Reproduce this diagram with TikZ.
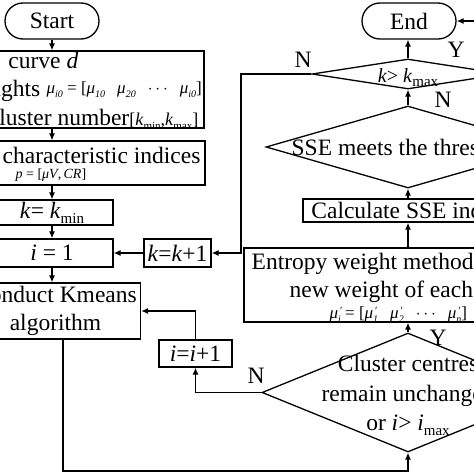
\documentclass[tikz,border=0pt]{standalone}
\usepackage{fontspec}
\setmainfont{Liberation Serif}
\usetikzlibrary{shapes.geometric,arrows.meta}
\newcommand\mv[1]{\textit{#1}}
\newcommand\sbs[1]{\raisebox{-.22em}{\fontsize{15}{15}\selectfont #1}}
\newcommand\ssb[1]{\raisebox{-.25em}{\fontsize{10}{10}\selectfont #1}}
\newcommand\msb[1]{\raisebox{-.25em}{\fontsize{11}{11}\selectfont #1}}
\newcommand\smu[1]{\mv{μ}\ssb{\mv{#1}}}
\newcommand\pmu[1]{\mv{μ}\rlap{\raisebox{.2em}{\fontsize{11}{11}\selectfont\,′}}\ssb{\mv{#1}}}
\begin{document}
\begin{tikzpicture}[x=1pt,y=-1pt,line width=1.3pt,>={Latex[length=7pt,width=6pt]},
font=\fontsize{23.5}{28}\selectfont,
box/.style={draw,rectangle,inner sep=0pt},
term/.style={draw,rectangle,rounded corners=18pt,minimum width=94pt,minimum height=36pt,inner sep=0pt},
dia/.style={draw,diamond,inner sep=0pt},
txt/.style={inner sep=0pt},
small/.style={inner sep=0pt,font=\fontsize{17}{17}\selectfont}]
\useasboundingbox (0,0) rectangle (474,474);
\clip (0,0) rectangle (474,474);
\node[term] (start) at (52,21) {Start};
\node[term] (end) at (409,21) {End};
\node[box,minimum width=264,minimum height=77] (inp) at (72,89.5) {};
\node[txt,anchor=base east] (inp1) at (79,68) {curve \mv{d}};
\node[txt,anchor=base east] (inp2) at (41,96) {Weights};
\node[small,anchor=base west] (w) at (46,93) {\smu{i0} = [\smu{10}\hspace{12pt}\smu{20}\hspace{12pt}$\cdots$\hspace{12pt}\smu{i0}]};
\node[txt,anchor=base east] (inp3) at (199,125) {Cluster number{\fontsize{18}{18}\selectfont[\mv{k}\msb{min},\mv{k}\msb{max}]}};
\node[box,minimum width=265,minimum height=44] (ind) at (72.5,163) {};
\node[txt,anchor=base east] (ind1) at (201,163) {characteristic indices};
\node[small,anchor=base west,font=\fontsize{14}{14}\selectfont] (p) at (15,178) {\mv{p} = [\mv{μV},\,\mv{CR}]};
\node[box,minimum width=122,minimum height=25] (kmin) at (52,212.5) {\mv{k}= \mv{k}\sbs{min}};
\node[box,minimum width=122,minimum height=28] (ione) at (52,253) {\mv{i} = 1};
\node[box,minimum width=67,minimum height=28] (kinc) at (177.5,253) {\mv{k}=\mv{k}+1};
\node[box,minimum width=170,minimum height=56,align=center] (km) at (55.5,311) {Conduct Kmeans\\algorithm};
\node[box,minimum width=73,minimum height=27] (iinc) at (195.5,353.5) {\mv{i}=\mv{i}+1};
\node[dia,minimum width=292,minimum height=119] (cc) at (408,392.5) {};
\node[txt,align=center,font=\fontsize{23.5}{29.5}\selectfont] (cct) at (408,395.5) {Cluster centres\\remain unchanged\\or \mv{i}> \mv{i}\sbs{max}};
\node[box,minimum width=330,minimum height=74] (ew) at (409,285) {};
\node[txt,anchor=base west] (ew1) at (251,269) {Entropy weight method to get the};
\node[txt,anchor=base west] (ew2) at (289,297) {new weight of each index};
\node[small,anchor=base west] (mu) at (329,318) {\pmu{i} = [\pmu{1}\hspace{12pt}\pmu{2}\hspace{12pt}$\cdots$\hspace{12pt}\pmu{n}]};
\node[box,minimum width=210,minimum height=23] (calc) at (408,210.5) {Calculate SSE index};
\node[dia,minimum width=284,minimum height=82] (thr) at (408,147) {};
\node[txt,anchor=base west] (thrt) at (291,155) {SSE meets the threshold};
\node[dia,minimum width=192,minimum height=30] (kmax) at (408,74) {};
\node[txt,anchor=base,font=\fontsize{20}{20}\selectfont] (kmaxt) at (408,82) {\mv{k}> \mv{k}\sbs{max}};
\node[txt] (n1) at (303,60) {N};
\node[txt] (y1) at (456,50) {Y};
\node[txt] (n2) at (443,100) {N};
\node[txt] (n3) at (256,376) {N};
\node[txt] (y2) at (438,338) {Y};
\coordinate (r) at (241,0);
\coordinate (b) at (63,471);
\draw[->] (start.south) -- (start.south |- inp.north);
\draw[->] (start.south |- inp.south) -- (start.south |- ind.north);
\draw[->] (kmin |- ind.south) -- (kmin.north);
\draw[->] (kmin.south) -- (ione.north);
\draw[->] (ione.south) -- (ione.south |- km.north);
\draw[->] (kinc.west) -- (ione.east);
\draw[->] (kmax.west) -| (r |- kinc.east) -- (kinc.east);
\draw[->] (b |- km.south) -- (b) -| (cc.south);
\draw[->] (cc.west) -| (iinc.south);
\draw[->] (iinc.north) |- (km.east);
\draw[->] (cc.north) -- (cc.north |- ew.south);
\draw[->] (calc |- ew.north) -- (calc.south);
\draw[->] (calc.north) -- (thr.south);
\draw[->] (thr.north) -- (kmax.south);
\draw[->] (kmax.north) -- (kmax.north |- end.south);
\draw[->] (kmax.east) -- ++(25,0) |- (end.east);
\end{tikzpicture}
\end{document}
